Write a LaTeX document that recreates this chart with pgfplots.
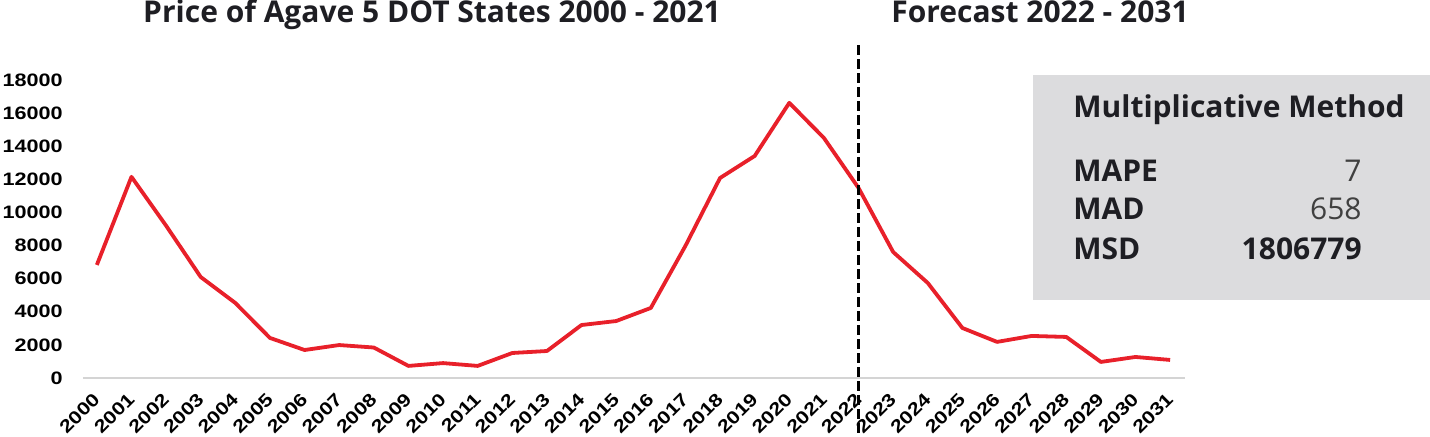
\documentclass[border=0pt]{standalone}
\usepackage{pgfplots}
\pgfplotsset{compat=1.18}
\usepackage{fontspec}
\setmainfont{Open Sans}
\newfontfamily\tickfont[FakeStretch=1.2]{Liberation Sans}
\definecolor{agred}{RGB}{232,32,42}
\definecolor{boxgray}{RGB}{220,220,222}
\definecolor{axgray}{RGB}{212,212,212}
\definecolor{txtdark}{RGB}{30,30,35}
\definecolor{txtgray}{RGB}{64,64,64}
\begin{document}
\begin{tikzpicture}[x=1pt,y=1pt]
\useasboundingbox (0,0) rectangle (715,218.5);
\fill[boxgray] (516.5,68.5) rectangle (715,181);
\begin{axis}[
  at={(41.5pt,29.5pt)}, anchor=south west,
  scale only axis, width=551pt, height=149pt,
  xmin=1999.6, xmax=2031.43, ymin=0, ymax=18000,
  axis x line*=bottom, axis y line*=left,
  x axis line style={draw=axgray, line width=1pt, -},
  y axis line style={draw=none},
  major tick length=0pt,
  xtick={2000,2001,...,2031},
  ytick={0,2000,...,18000},
  scaled y ticks=false, scaled x ticks=false,
  /pgf/number format/1000 sep={},
  /pgf/number format/assume math mode=true,
  ticklabel style={font=\tickfont\bfseries\fontsize{9}{9}\selectfont, text=black},
  yticklabel style={anchor=east, inner sep=0pt},
  yticklabel shift=10pt,
  xticklabel style={rotate=45, anchor=east, inner sep=0pt},
  xticklabel shift=9pt,
  clip=false,
]
\addplot[agred, line width=1.9pt, line join=round] coordinates {
(2000,6830) (2001,12150) (2002,9200) (2003,6100) (2004,4530) (2005,2420)
(2006,1690) (2007,1990) (2008,1840) (2009,730) (2010,900) (2011,730)
(2012,1510) (2013,1630) (2014,3200) (2015,3440) (2016,4230) (2017,7980)
(2018,12080) (2019,13410) (2020,16620) (2021,14500) (2022,11480) (2023,7610)
(2024,5740) (2025,3020) (2026,2180) (2027,2540) (2028,2480) (2029,970)
(2030,1270) (2031,1090)
};
\draw[black, line width=1.6pt, dash pattern=on 5pt off 2pt] (axis cs:2022,20100) -- (axis cs:2022,-3570);
\end{axis}
\node[anchor=base, text=txtdark, font=\bfseries\fontsize{15}{17}\selectfont] at (216,207) {Price of Agave 5 DOT States 2000 - 2021};
\node[anchor=base, text=txtdark, font=\bfseries\fontsize{15}{17}\selectfont] at (520,207) {Forecast 2022 - 2031};
\node[anchor=base west, inner sep=0pt, text=txtdark, font=\bfseries\fontsize{15}{17}\selectfont] at (536.5,159.5) {Multiplicative Method};
\node[anchor=base west, inner sep=0pt, text=txtdark, font=\bfseries\fontsize{15}{17}\selectfont] at (536.5,127.5) {MAPE};
\node[anchor=base west, inner sep=0pt, text=txtdark, font=\bfseries\fontsize{15}{17}\selectfont] at (536.5,108.5) {MAD};
\node[anchor=base west, inner sep=0pt, text=txtdark, font=\bfseries\fontsize{15}{17}\selectfont] at (536.5,88.5) {MSD};
\node[anchor=base east, inner sep=0pt, text=txtgray, font=\fontsize{15}{17}\selectfont] at (681,127.5) {7};
\node[anchor=base east, inner sep=0pt, text=txtgray, font=\fontsize{15}{17}\selectfont] at (681,108.5) {658};
\node[anchor=base east, inner sep=0pt, text=txtdark, font=\bfseries\fontsize{15}{17}\selectfont] at (681,88.5) {1806779};
\end{tikzpicture}
\end{document}
